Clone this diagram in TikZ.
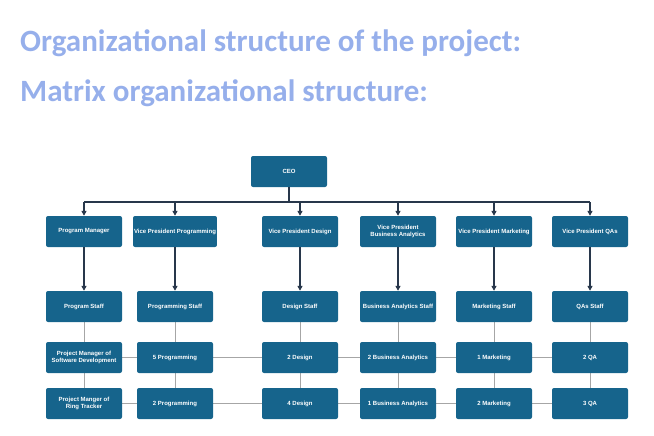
\documentclass[tikz,border=0pt]{standalone}
\usepackage{fontspec}
\setmainfont{Liberation Sans}
\newfontfamily\titlefont{Carlito}
\usetikzlibrary{arrows.meta,backgrounds}
\definecolor{boxc}{RGB}{22,100,140}
\definecolor{linec}{RGB}{40,55,75}
\definecolor{titlec}{RGB}{150,175,235}
\begin{document}
\begin{tikzpicture}[x=1pt,y=-1pt,
 box/.style={draw=none,fill=boxc,rounded corners=2pt,minimum width=76pt,minimum height=31pt,text=white,font=\bfseries\fontsize{6}{7}\selectfont,align=center,inner sep=1pt},
 arr/.style={draw=linec,line width=1.3pt,-{Triangle[length=5pt,width=5pt]}},
 thin/.style={draw=gray!70,line width=0.8pt},
 ttl/.style={anchor=base west,font=\titlefont\bfseries\fontsize{31}{34}\selectfont,text=titlec,inner sep=0pt}]
\useasboundingbox (0,0) rectangle (654,436);
\node[ttl] (t1) at (20,52) {Organizational structure of the project:};
\node[ttl] (t2) at (20,102) {Matrix organizational structure:};
\node[box] (ceo) at (289,171.5) {CEO};
\foreach \n/\x/\t in {a/84/Program Manager,b/175/Vice President Programming,c/300/Vice President Design,d/398/{Vice President\\Business Analytics},e/494/Vice President Marketing,f/590/Vice President QAs}{
  \node[box] (v\n) at (\x,231.5) {\t};
  \coordinate (j\n) at (\x,202);
}
\foreach \n/\x/\t in {a/84/Program Staff,b/175/Programming Staff,c/300/Design Staff,d/398/Business Analytics Staff,e/494/Marketing Staff,f/590/QAs Staff}
  \node[box] (s\n) at (\x,306.5) {\t};
\foreach \n/\x/\t in {a/84/{Project Manager of\\Software Development},b/175/5 Programming,c/300/2 Design,d/398/2 Business Analytics,e/494/1 Marketing,f/590/2 QA}
  \node[box] (p\n) at (\x,357.5) {\t};
\foreach \n/\x/\t in {a/84/{Project Manger of\\Ring Tracker},b/175/2 Programming,c/300/4 Design,d/398/1 Business Analytics,e/494/2 Marketing,f/590/3 QA}
  \node[box] (q\n) at (\x,403.5) {\t};
\coordinate (jceo) at (289,202);
\draw[draw=linec,line width=1.3pt] (ceo.south) -- (jceo);
\draw[draw=linec,line width=1.3pt] (ja) -- (jf);
\foreach \n in {a,b,c,d,e,f}{
  \draw[arr] (j\n) -- (v\n.north);
  \draw[arr] (v\n.south) -- (s\n.north);
}
\begin{scope}[on background layer]
\foreach \n in {a,b,c,d,e,f}{
  \draw[thin] (s\n.south) -- (p\n.north);
  \draw[thin] (p\n.south) -- (q\n.north);
}
\draw[thin] (pa) -- (pb) -- (pc) -- (pd) -- (pe) -- (pf);
\draw[thin] (qa) -- (qb) -- (qc) -- (qd) -- (qe) -- (qf);
\end{scope}
\end{tikzpicture}
\end{document}
